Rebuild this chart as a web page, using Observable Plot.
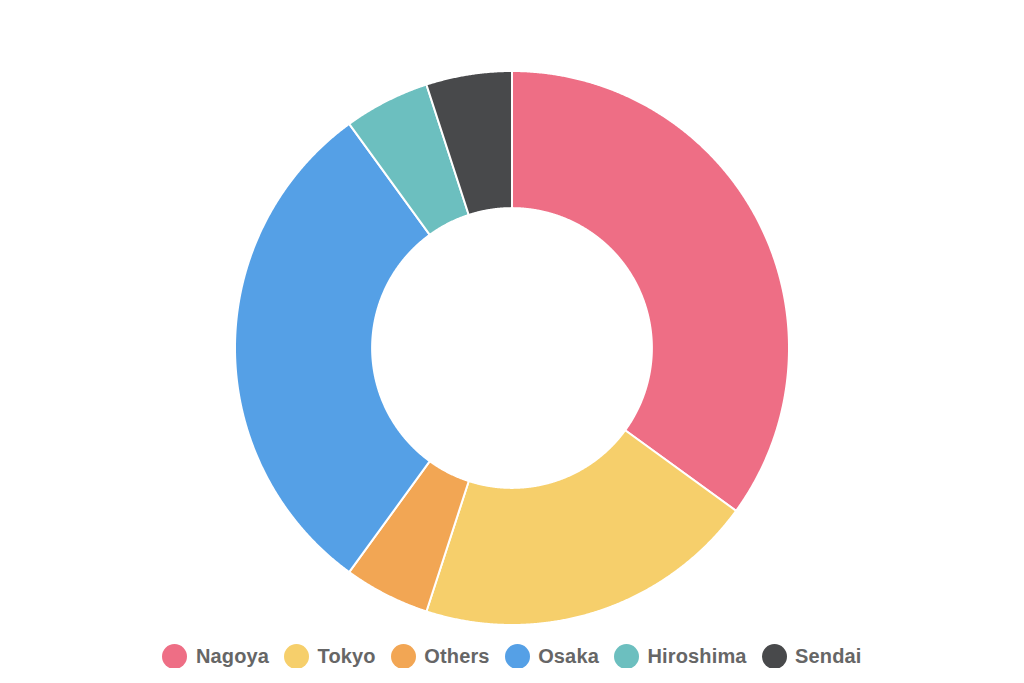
<!DOCTYPE html>
<html><head><meta charset="utf-8">
<script src="https://cdn.jsdelivr.net/npm/d3@7"></script>
<script src="https://cdn.jsdelivr.net/npm/@observablehq/plot@0.6"></script>
<style>
body{margin:0;background:#fff;font-family:"Liberation Sans",Arial,sans-serif;}
#chart svg{display:block;}
#legend{display:flex;justify-content:center;align-items:center;margin-top:14px;height:24px;font-weight:bold;font-size:20px;color:#666;}
.item{display:flex;align-items:center;margin:0 7.5px;}
.dot{width:25px;height:25px;border-radius:50%;margin-right:8.5px;}
.lbl{letter-spacing:0.15px;}
</style></head><body><div id="chart"></div><div id="legend"></div>
<script>
const categories = ["Nagoya","Tokyo","Others","Osaka","Hiroshima","Sendai"];
const values = [35,20,5,30,5,5];
const colors = ["#ee6e85","#f6cf6b","#f2a654","#55a0e6","#6cbfbf","#48494b"];
const innerRatio = 0.505;

const arcs = d3.pie().sort(null).value(d => d)(values);
const pts = [];
arcs.forEach((a, i) => {
  const n = Math.max(8, Math.ceil((a.endAngle - a.startAngle) / 0.004));
  const cat = categories[i];
  const ring = [];
  for (let k = 0; k <= n; k++) {
    const t = a.startAngle + (a.endAngle - a.startAngle) * k / n;
    ring.push({cat, x: Math.sin(t), y: Math.cos(t)});
  }
  for (let k = n; k >= 0; k--) {
    const t = a.startAngle + (a.endAngle - a.startAngle) * k / n;
    ring.push({cat, x: innerRatio * Math.sin(t), y: innerRatio * Math.cos(t)});
  }
  ring.push({...ring[0]});
  pts.push(...ring);
});

const chart = Plot.plot({
  width: 1024, height: 630,
  marginLeft: 234.5, marginRight: 235.5, marginTop: 70.5, marginBottom: 5.5,
  x: {domain: [-1, 1], axis: null},
  y: {domain: [-1, 1], axis: null},
  color: {domain: categories, range: colors},
  marks: [
    Plot.line(pts, {x: "x", y: "y", z: "cat", fill: "cat", stroke: "white", strokeWidth: 2, strokeLinejoin: "round"})
  ]
});
document.getElementById("chart").appendChild(chart);

const legend = document.getElementById("legend");
categories.forEach((c, i) => {
  const item = document.createElement("div");
  item.className = "item";
  const dot = document.createElement("span");
  dot.className = "dot";
  dot.style.background = colors[i];
  const label = document.createElement("span");
  label.className = "lbl";
  label.textContent = c;
  item.appendChild(dot);
  item.appendChild(label);
  legend.appendChild(item);
});
</script>
</body></html>
